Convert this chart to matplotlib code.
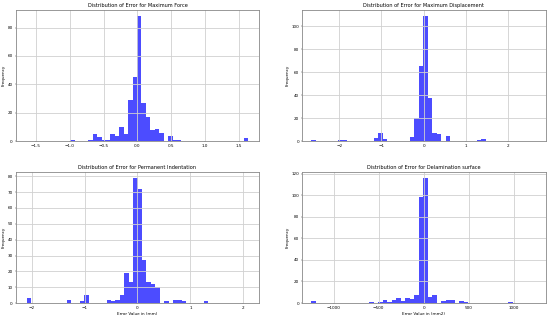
import numpy as np
import matplotlib
matplotlib.use('Agg')
import matplotlib.pyplot as plt

# bin counts
force_counts = [1, 0, 0, 0, 1, 5, 3, 1, 1, 5, 4, 10, 5, 29, 45, 88, 27, 17, 8, 9,
                6, 0, 4, 1, 1, 0, 0, 0, 0, 0, 0, 0, 0, 0, 0, 0, 0, 0, 0, 2]
force_range = (-0.99, 1.632)

disp_counts = [1, 0, 0, 0, 0, 0, 1, 1, 0, 0, 0, 0, 0, 0, 3, 7, 2, 0, 0, 0,
               0, 0, 4, 20, 66, 109, 38, 7, 6, 0, 5, 0, 0, 0, 0, 0, 0, 1, 2]
disp_range = (-2.66, 1.47)

indent_counts = [3, 0, 0, 0, 0, 0, 0, 0, 0, 2, 0, 0, 1, 5, 0, 0, 0, 0, 2, 1,
                 2, 5, 19, 13, 79, 72, 27, 13, 12, 10, 0, 1, 0, 2, 2, 1, 0, 0, 0, 0, 1]
indent_range = (-2.09, 1.338)

delam_counts = [2, 0, 0, 0, 0, 0, 0, 0, 0, 0, 0, 0, 0, 1, 0, 1, 3, 1, 3, 5,
                2, 5, 4, 7, 98, 116, 6, 7, 0, 2, 3, 3, 0, 2, 1, 0, 0, 0, 0, 0,
                0, 0, 0, 0, 1]
delam_range = (-1248, 988)

titles = ['Distribution of Error for Maximum Force',
          'Distribution of Error for Maximum Displacement',
          'Distribution of Error for Permanent Indentation',
          'Distribution of Error for Delamination surface']
xlabels = [None, None, 'Error Value in (mm)', 'Error Value in (mm2)']
xlims = [1.8, 2.88, 2.3, 1350]

panels = [(force_counts, force_range), (disp_counts, disp_range),
          (indent_counts, indent_range), (delam_counts, delam_range)]

fig, axes = plt.subplots(2, 2, figsize=(550 / 30, 318 / 30), dpi=30)
fig.subplots_adjust(left=0.0285, right=0.992, top=0.969, bottom=0.047,
                    wspace=0.175, hspace=0.23)

for ax, (counts, rng), title, xlabel, lim in zip(axes.flat, panels, titles, xlabels, xlims):
    edges = np.linspace(rng[0], rng[1], len(counts) + 1)
    ax.hist(edges[:-1], bins=edges, weights=counts, color='blue', alpha=0.7)
    ax.set_title(title)
    ax.set_ylabel('Frequency')
    if xlabel:
        ax.set_xlabel(xlabel)
    ax.set_xlim(-lim, lim)
    ax.grid(True, linewidth=2, color='#d0d0d0')
    for s in ax.spines.values():
        s.set_linewidth(2)
        s.set_color('#888888')

plt.savefig('out.png', dpi=30)
